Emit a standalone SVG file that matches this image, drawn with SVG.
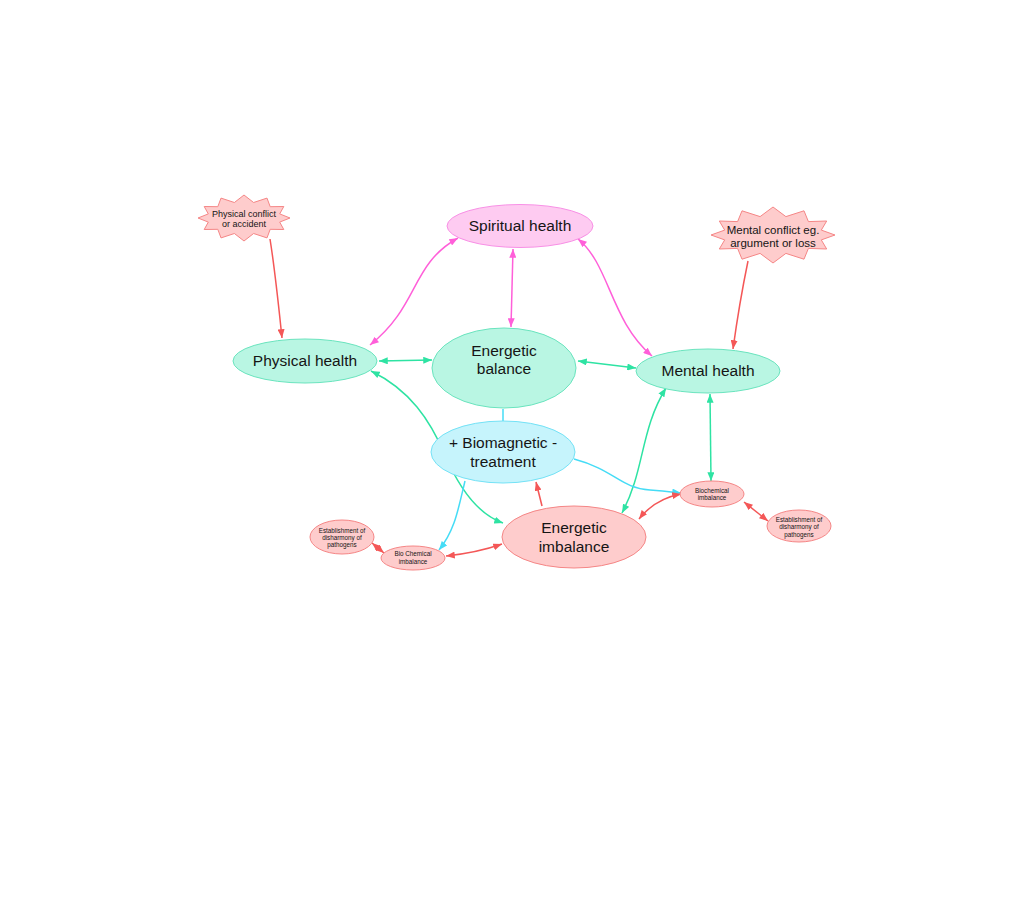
<svg xmlns="http://www.w3.org/2000/svg" width="1024" height="916" viewBox="0 0 1024 916">
<style>
text{font-family:"Liberation Sans",Arial,sans-serif;fill:#151515;text-anchor:middle}
.big{font-size:15.5px}
.star{font-size:9px}
.star2{font-size:11.5px}
.sm{font-size:6.3px}
.g{fill:#b9f6e3;stroke:#6ae4be;stroke-width:1}
.p{fill:#fecbf1;stroke:#f890e6;stroke-width:1}
.c{fill:#c6f4fc;stroke:#74e2f6;stroke-width:1}
.r{fill:#fecccc;stroke:#f58686;stroke-width:1}
.e{fill:none;stroke-width:1.5}
.eg{stroke:#2ee3a3}
.em{stroke:#ff5fd9}
.ec{stroke:#45dcf6}
.er{stroke:#f45757}
</style>
<defs>
<marker id="ag" viewBox="0 0 10 8" refX="10" refY="4" markerWidth="9" markerHeight="7" markerUnits="userSpaceOnUse" orient="auto-start-reverse"><path d="M0,0 L10,4 L0,8 z" fill="#2ee3a3"/></marker>
<marker id="am" viewBox="0 0 10 8" refX="10" refY="4" markerWidth="9" markerHeight="7" markerUnits="userSpaceOnUse" orient="auto-start-reverse"><path d="M0,0 L10,4 L0,8 z" fill="#ff5fd9"/></marker>
<marker id="ac" viewBox="0 0 10 8" refX="10" refY="4" markerWidth="9" markerHeight="7" markerUnits="userSpaceOnUse" orient="auto-start-reverse"><path d="M0,0 L10,4 L0,8 z" fill="#45dcf6"/></marker>
<marker id="ar" viewBox="0 0 10 8" refX="10" refY="4" markerWidth="9" markerHeight="7" markerUnits="userSpaceOnUse" orient="auto-start-reverse"><path d="M0,0 L10,4 L0,8 z" fill="#f45757"/></marker>
</defs>
<rect width="1024" height="916" fill="#ffffff"/>
<g id="connectors">
<path class="e er" d="M270,239 C275,270 278,300 282,338" marker-end="url(#ar)"/>
<path class="e er" d="M748,261 C742,290 737,320 733,349" marker-end="url(#ar)"/>
<path class="e em" d="M458,238 C410,265 420,305 370,345" marker-start="url(#am)" marker-end="url(#am)"/>
<path class="e em" d="M513,249 L511,327" marker-start="url(#am)" marker-end="url(#am)"/>
<path class="e em" d="M578,239 C610,265 610,320 652,356" marker-start="url(#am)" marker-end="url(#am)"/>
<path class="e eg" d="M379,361 L432,360" marker-start="url(#ag)" marker-end="url(#ag)"/>
<path class="e eg" d="M578,361 L636,368" marker-start="url(#ag)" marker-end="url(#ag)"/>
<path class="e eg" d="M371,371 C410,390 430,420 445,455 C460,490 480,515 503,523" marker-start="url(#ag)" marker-end="url(#ag)"/>
<path class="e eg" d="M666,388 C640,430 645,470 622,513" marker-start="url(#ag)" marker-end="url(#ag)"/>
<path class="e eg" d="M710,394 L711,481" marker-start="url(#ag)" marker-end="url(#ag)"/>
<path class="e ec" d="M503,421 L503,409"/>
<path class="e ec" d="M574,459 C615,470 620,488 650,490 C665,491 672,492 681,493" marker-end="url(#ac)"/>
<path class="e ec" d="M465,481 C458,510 455,530 439,550" marker-end="url(#ac)"/>
<path class="e er" d="M542,506 L536,482" marker-end="url(#ar)"/>
<path class="e er" d="M639,519 C650,505 665,497 681,494" marker-start="url(#ar)" marker-end="url(#ar)"/>
<path class="e er" d="M446,556 C465,554 485,550 502,544" marker-start="url(#ar)" marker-end="url(#ar)"/>
<path class="e er" d="M372,543 L384,553" marker-start="url(#ar)" marker-end="url(#ar)"/>
<path class="e er" d="M744,502 L768,521" marker-start="url(#ar)" marker-end="url(#ar)"/>
</g>
<g id="physical-conflict">
<polygon class="r" points="290,218 279.7,222.1 283.8,229.5 270.2,229.3 267,237.9 253.6,233.5 244,241 234.4,233.5 221,237.9 217.8,229.3 204.2,229.5 208.3,222.1 198,218 208.3,213.9 204.2,206.5 217.8,206.7 221,198.1 234.4,202.5 244,195 253.6,202.5 267,198.1 270.2,206.7 283.8,206.5 279.7,213.9"/>
<text class="star" x="244" y="217">Physical conflict</text>
<text class="star" x="244" y="227">or accident</text>
</g>
<g id="mental-conflict">
<polygon class="r" points="835,235 821.3,239.9 826.7,249 808.4,248.4 804,259.2 785.9,253.4 773,263 760.1,253.4 742,259.2 737.6,248.4 719.3,249 724.7,239.9 711,235 724.7,230.1 719.3,221 737.6,221.6 742,210.8 760.1,216.6 773,207 785.9,216.6 804,210.8 808.4,221.6 826.7,221 821.3,230.1"/>
<text class="star2" x="773" y="234">Mental conflict eg.</text>
<text class="star2" x="773" y="247">argument or loss</text>
</g>
<g id="spiritual-health">
<ellipse class="p" cx="520" cy="226" rx="73" ry="21.5"/>
<text class="big" x="520" y="231">Spiritual health</text>
</g>
<g id="physical-health">
<ellipse class="g" cx="305" cy="361" rx="72" ry="22"/>
<text class="big" x="305" y="366">Physical health</text>
</g>
<g id="energetic-balance">
<ellipse class="g" cx="504" cy="368" rx="72" ry="40"/>
<text class="big" x="504" y="356">Energetic</text>
<text class="big" x="504" y="374">balance</text>
</g>
<g id="mental-health">
<ellipse class="g" cx="708" cy="371" rx="72" ry="22"/>
<text class="big" x="708" y="376">Mental health</text>
</g>
<g id="biomagnetic">
<ellipse class="c" cx="503" cy="452" rx="72" ry="31"/>
<text class="big" x="503" y="448">+ Biomagnetic -</text>
<text class="big" x="503" y="467">treatment</text>
</g>
<g id="energetic-imbalance">
<ellipse class="r" cx="574" cy="537" rx="72" ry="31"/>
<text class="big" x="574" y="533">Energetic</text>
<text class="big" x="574" y="552">imbalance</text>
</g>
<g id="establishment-left">
<ellipse class="r" cx="342" cy="537" rx="32" ry="17"/>
<text class="sm" x="342" y="533">Establishment of</text>
<text class="sm" x="342" y="540">disharmony of</text>
<text class="sm" x="342" y="547">pathogens</text>
</g>
<g id="biochemical-left">
<ellipse class="r" cx="413" cy="558" rx="32" ry="12"/>
<text class="sm" x="413" y="556">Bio Chemical</text>
<text class="sm" x="413" y="564">imbalance</text>
</g>
<g id="biochemical-right">
<ellipse class="r" cx="712" cy="494" rx="32" ry="13"/>
<text class="sm" x="712" y="493">Biochemical</text>
<text class="sm" x="712" y="500">imbalance</text>
</g>
<g id="establishment-right">
<ellipse class="r" cx="799" cy="526" rx="32" ry="16"/>
<text class="sm" x="799" y="522">Establishment of</text>
<text class="sm" x="799" y="529">disharmony of</text>
<text class="sm" x="799" y="537">pathogens</text>
</g>
</svg>
